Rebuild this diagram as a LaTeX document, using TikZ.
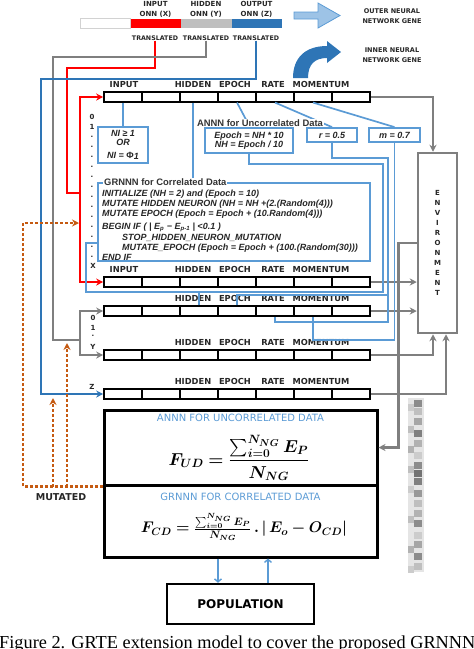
\documentclass[tikz,border=0pt]{standalone}
\usepackage{amsmath,bm}
\usepackage{fontspec}
\setmainfont{Liberation Sans}
\newfontfamily\dejavu{DejaVu Sans}
\newfontfamily\capfont{Liberation Serif}
\usetikzlibrary{arrows.meta}

\definecolor{genered}{HTML}{FF0000}
\definecolor{genegray}{HTML}{BFBFBF}
\definecolor{geneblue}{HTML}{2E75B6}
\definecolor{linegray}{HTML}{7F7F7F}
\definecolor{paleblue}{HTML}{5B9BD5}
\definecolor{skyblue}{HTML}{9DC3E6}
\definecolor{mutorange}{HTML}{C55A11}

\tikzset{
  cell/.style={draw, line width=1.6pt, minimum width=38pt, minimum height=9.5pt, inner sep=0pt},
  genebox/.style={minimum width=50.5pt, minimum height=9.5pt, inner sep=0pt},
  lbl/.style={font=\dejavu\bfseries\fontsize{8.3}{9}\selectfont, inner sep=0pt, text=black!85},
  tinylbl/.style={font=\dejavu\bfseries\fontsize{6.3}{10}\selectfont, inner sep=0pt, text=black!85},
  dig/.style={font=\dejavu\bfseries\fontsize{7}{8}\selectfont, inner sep=0pt, text=black!85},
  rulebox/.style={draw=paleblue, line width=1.8pt, fill=white, inner sep=0pt},
  boxtext/.style={font=\bfseries\itshape\fontsize{9}{9.5}\selectfont, text=black!85, inner sep=0pt},
  headtext/.style={font=\bfseries\fontsize{9.4}{10}\selectfont, text=black!80, fill=white, inner sep=1pt},
  grayline/.style={draw=linegray, line width=2.8pt},
  redline/.style={draw=genered, line width=2.6pt},
  zline/.style={draw=geneblue, line width=2.4pt},
  paleline/.style={draw=paleblue, line width=1.7pt},
  mutline/.style={draw=mutorange, line width=2.6pt, dash pattern=on 3pt off 2pt},
  fitbox/.style={draw, line width=3pt, minimum width=273pt, inner sep=0pt},
  fittitle/.style={font=\dejavu\fontsize{10}{11}\selectfont, text=paleblue, inner sep=0pt},
}

\begin{document}
\begin{tikzpicture}[x=1pt, y=-1pt, >={Stealth[length=7pt,width=7pt]}]
\useasboundingbox (0,0) rectangle (474,649);

% Gene string
\node[genebox, fill=white, draw=genegray!70, line width=0.6pt] (gw) at (105.25,23.5) {};
\node[genebox, fill=genered] (gx) at (155.75,23.5) {};
\node[genebox, fill=genegray] (gy) at (206.25,23.5) {};
\node[genebox, fill=geneblue] (gz) at (256.75,23.5) {};
\node[tinylbl, font=\dejavu\bfseries\fontsize{7}{10}\selectfont, align=center] (hx) at (155.5,9) {INPUT\\ONN (X)};
\node[tinylbl, font=\dejavu\bfseries\fontsize{7}{10}\selectfont, align=center] (hy) at (206,9) {HIDDEN\\ONN (Y)};
\node[tinylbl, font=\dejavu\bfseries\fontsize{7}{10}\selectfont, align=center] (hz) at (256.5,9) {OUTPUT\\ONN (Z)};
\node[tinylbl] (tx) at (155,38) {TRANSLATED};
\node[tinylbl] (ty) at (206,38) {TRANSLATED};
\node[tinylbl] (tz) at (256,38) {TRANSLATED};

% Gene legend arrows
\filldraw[fill=skyblue, draw=paleblue, line width=0.8pt] (294,12) -- (318,12) -- (318,3) -- (340,15.5) -- (318,28) -- (318,19) -- (294,19) -- cycle;
\node[tinylbl, font=\dejavu\bfseries\fontsize{6.5}{10}\selectfont, align=center] (outer) at (392,16) {OUTER NEURAL\\NETWORK GENE};
\fill[geneblue] (293,78) .. controls (293,58) and (305,46) .. (327,46) -- (327,41) -- (341,52) -- (327,63) -- (327,58) .. controls (315,58) and (308,64) .. (308,78) -- cycle;
\node[tinylbl, font=\dejavu\bfseries\fontsize{6.5}{10}\selectfont, align=center] (inner) at (392,55) {INNER NEURAL\\NETWORK GENE};

% Chromosome rows
\foreach \r/\y in {a/97, b/282, c/311, d/355, e/394} {
  \foreach \i in {1,...,7}
    \node[cell] (\r\i) at ({85+38*\i},\y) {};
  \foreach \t/\x in {HIDDEN/193, EPOCH/235, RATE/273, MOMENTUM/321}
    \node[lbl] (\r-\t) at (\x,\y-12.5) {\t};
}
\node[lbl] (a-INPUT) at (124,84.5) {INPUT};
\node[lbl] (b-INPUT) at (124,269.5) {INPUT};

% Gene index marks
\node[dig] (xa0) at (92,117) {0};
\node[dig] (xa1) at (92,127) {1};
\foreach \k in {0,...,12}
  \node[dig] (xdot\k) at (92,137+10*\k) {.};
\node[dig] (xaX) at (93,266) {X};
\node[dig] (ya0) at (93,318) {0};
\node[dig] (ya1) at (93,328) {1};
\node[dig] (ydot) at (93,336) {.};
\node[dig] (yaY) at (93,347) {Y};
\node[dig] (zaZ) at (92,387) {Z};

% Parameter boxes
\node[rulebox, minimum width=50pt, minimum height=36pt, boxtext, align=center] (ni) at (123,145)
  {NI {\upshape≥} 1\\OR\\[3pt]NI = {\upshape Φ}\raisebox{-1.5pt}{1}};
\node[rulebox, minimum width=88pt, minimum height=25pt, boxtext, align=center] (ann) at (249,140.5)
  {Epoch = NH * 10\\NH = Epoch / 10};
\node[rulebox, minimum width=50pt, minimum height=14pt, boxtext] (rbox) at (332,135) {r = 0.5};
\node[rulebox, minimum width=51pt, minimum height=14pt, boxtext] (mbox) at (394.5,135) {m = 0.7};
\node[rulebox, minimum width=272pt, minimum height=78pt] (grn) at (234,222) {};
\node[boxtext, anchor=west] (g1) at (102,194) {INITIALIZE (NH = 2) and (Epoch = 10)};
\node[boxtext, anchor=west] (g2) at (102,204) {MUTATE HIDDEN NEURON (NH = NH +(2.(Random(4)))};
\node[boxtext, anchor=west] (g3) at (102,214) {MUTATE EPOCH (Epoch = Epoch + (10.Random(4)))};
\node[boxtext, anchor=west] (g4) at (102,227) {BEGIN IF ( | E\textsubscript{p} − E\textsubscript{p-1} | {\upshape<}0.1 )};
\node[boxtext, anchor=west] (g5) at (122,238) {STOP\_HIDDEN\_NEURON\_MUTATION};
\node[boxtext, anchor=west] (g6) at (122,248) {MUTATE\_EPOCH (Epoch = Epoch + (100.(Random(30)))};
\node[boxtext, anchor=west] (g7) at (102,257) {END IF};

% Environment
\node[draw=linegray, line width=2.5pt, minimum width=39pt, minimum height=180pt, inner sep=0pt,
  align=center, font=\dejavu\bfseries\fontsize{7}{10}\selectfont, text=black!85] (env) at (437.5,243)
  {E\\N\\V\\I\\R\\O\\N\\M\\E\\N\\T};

% Fitness functions
\node[fitbox, minimum height=75pt] (fud) at (240.5,447.5) {};
\node[fitbox, minimum height=72pt] (fcd) at (240.5,521) {};
\node[fittitle] (fudtitle) at (240.5,418) {ANNN FOR UNCORRELATED DATA};
\node[font=\fontsize{17.28}{20}\selectfont, inner sep=0pt] (fudeq) at (239,458)
  {$\displaystyle \bm{F_{UD} = \frac{\sum_{i=0}^{N_{NG}} E_P}{N_{NG}}}$};
\node[fittitle] (fcdtitle) at (240.5,497) {GRNNN FOR CORRELATED DATA};
\node[font=\fontsize{14.4}{18}\selectfont, inner sep=0pt] (fcdeq) at (244,527)
  {\scalebox{1.07}{$\bm{F_{CD} = \tfrac{\sum_{i=0}^{N_{NG}} E_P}{N_{NG}}\,.\,|\,E_o - O_{CD}|}$}};
\node[draw, line width=2.5pt, minimum width=147pt, minimum height=40pt,
  font=\dejavu\bfseries\fontsize{12}{14}\selectfont] (pop) at (240.5,604) {POPULATION};

% Junction points
\coordinate (rj) at (80,193);
\coordinate (gj) at (80,340);
\coordinate (mh) at (79,223);
\coordinate (zmut) at (53,398);
\coordinate (ymut) at (67,343);

% Translated gene lines
\draw[redline] (tx.south) |- (67,68) -- (67,193) -- (rj);
\draw[redline, ->] (rj) |- (a1.west);
\draw[redline, ->] (rj) |- (b1.west);
\draw[grayline] (ty.south) |- (53,57) -- (53,340) -- (gj);
\draw[grayline, ->] (gj) |- (c1.west);
\draw[grayline, ->] (gj) |- (d1.west);
\draw[zline, ->] (tz.south) |- (41,79) |- (e1.west);

% Chromosomes to environment
\draw[grayline, ->] (a7.east) -| ([xshift=-4.5pt]env.north);
\draw[grayline, ->] (b7.east) -- (b7.east -| env.west);
\draw[grayline, ->] (c7.east) -- (c7.east -| env.west);
\draw[grayline, ->] (d7.east) -| ([xshift=-4.5pt]env.south);
\draw[grayline, ->] (e7.east) -| ([xshift=8.5pt]env.south);
\draw[grayline, ->] (env.west) -- ++(-18,0) |- (fud.east);

% Parameter links
\draw[paleline] (a1.south) -- (ni.north);
\draw[paleline] ([xshift=-6pt]a3.south) -- ([xshift=-6pt]a3.south |- grn.north);
\draw[paleline] (a4.south) -- ([xshift=1pt]ann.north);
\draw[paleline] (a5.south) -- (rbox.north);
\draw[paleline] (a6.south) -- (mbox.north);
\draw[paleline] (ann.south) -- ++(0,10) -| (383,292) -| (86,243) -- (86,243 -| grn.west);
\draw[paleline] (c3.north) -- (c3.north |- 0,292);
\draw[paleline] (c4.north) |- (388,295);
\draw[paleline] (rbox.south) -- ++(0,15) -| (388,322) -| (c5.south);
\draw[paleline] (mbox.south) -- ++(0,197) -| (c6.south);

% Section headings on the boxes
\node[headtext] (annlbl) at (260,123) {ANNN for Uncorrelated Data};
\node[headtext, anchor=west] (grnlbl) at (103,182.5) {GRNNN for Correlated Data};

% Mutation feedback
\draw[mutline, ->] (fud.south west) -| (23,223) -- (mh);
\draw[mutline, ->] (fud.south west -| zmut) -- (zmut);
\draw[mutline, ->] (fud.south west -| ymut) -- (ymut);
\node[font=\dejavu\bfseries\fontsize{9.5}{10}\selectfont, text=black!85, inner sep=0pt] (mutated) at (61,497) {MUTATED};

% Population exchange
\draw[paleline, line width=1.4pt, -{Straight Barb[length=3pt,width=7pt]}] ([xshift=-22.5pt]fcd.south) -- ([xshift=-22.5pt]pop.north);
\draw[paleline, line width=1.4pt, -{Straight Barb[length=3pt,width=7pt]}] ([xshift=27.5pt]pop.north) -- ([xshift=27.5pt]fcd.south);

% Blurred strip
\fill[black!10] (408,398) rectangle (424,572);
\foreach \yy/\sh in {400/45, 408/25, 418/35, 430/50, 440/30, 452/20, 462/45, 470/55, 478/50, 490/40, 500/25, 510/30, 520/45, 532/20, 541/35, 553/45, 563/25}
  \fill[black!\sh] (414,\yy) rectangle ++(8,7);
\foreach \yy/\sh in {404/20, 426/25, 446/30, 466/25, 486/20, 516/25, 546/30, 566/20}
  \fill[black!\sh] (408,\yy) rectangle ++(6,7);

% Caption
\node[anchor=base west, inner sep=0pt, font=\capfont\fontsize{18.3}{20}\selectfont] (caption) at (-1,648)
  {Figure 2. GRTE extension model to cover the proposed GRNNN};

\end{tikzpicture}
\end{document}
